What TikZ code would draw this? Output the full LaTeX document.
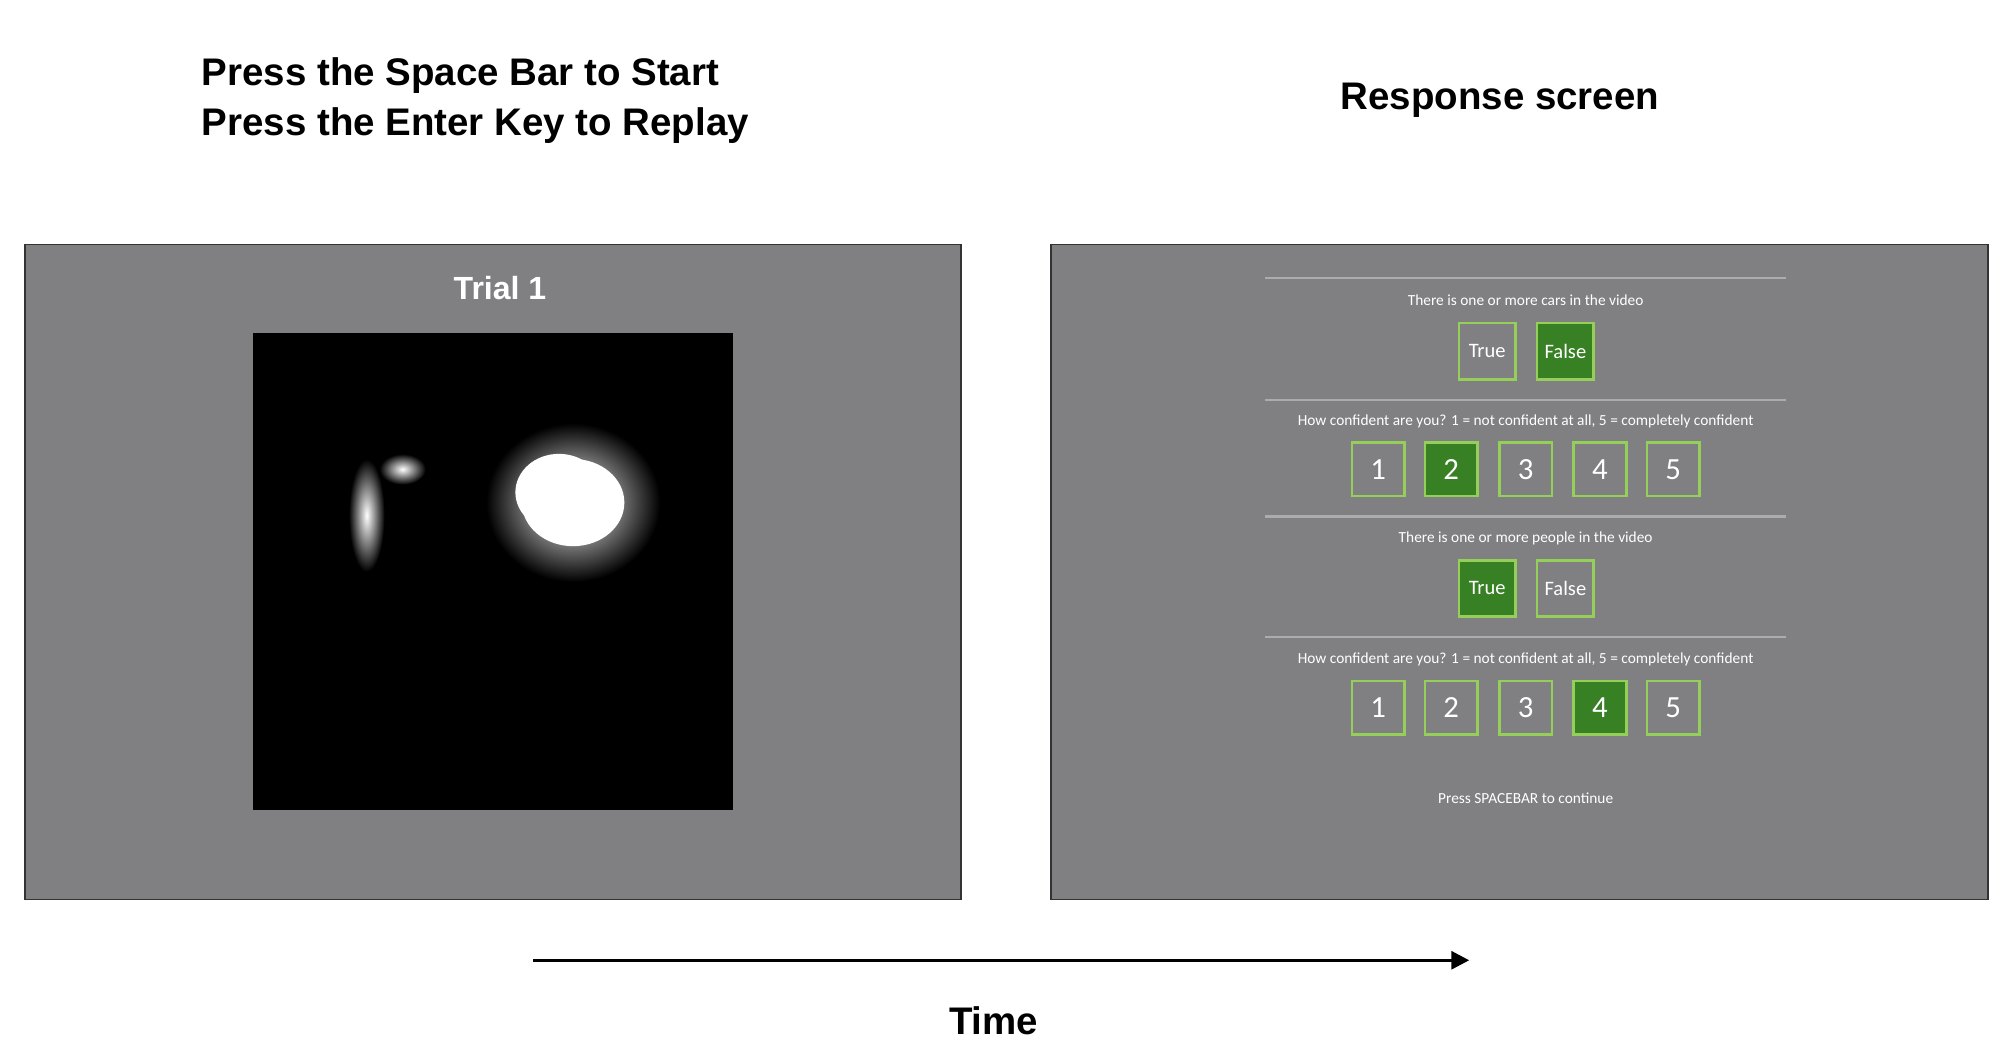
\documentclass[tikz,border=0pt]{standalone}
\usepackage{fontspec}
\setmainfont{Liberation Sans}
\newfontfamily\uifont{Carlito}
\usetikzlibrary{arrows.meta}
\definecolor{panel}{RGB}{128,128,130}
\definecolor{rule}{RGB}{172,172,174}
\definecolor{btnfill}{RGB}{56,128,36}
\definecolor{btnedge}{RGB}{150,206,90}
\tikzset{
  panelbox/.style={draw=black!80,line width=0.6pt,fill=panel},
  title/.style={font=\bfseries\fontsize{15}{18}\selectfont,anchor=west,inner sep=0},
  qtext/.style={text=white,font=\uifont\fontsize{6}{7}\selectfont,inner sep=0},
  btn/.style={draw=btnedge,line width=1pt,minimum width=22pt,minimum height=22pt,inner sep=0,text=white,font=\uifont\fontsize{8}{9}\selectfont},
  numbtn/.style={draw=btnedge,line width=1pt,minimum width=20.5pt,minimum height=21pt,inner sep=0,text=white,font=\uifont\fontsize{12}{13}\selectfont},
  sel/.style={fill=btnfill},
  sep/.style={draw=rule,line width=1pt}
}
\begin{document}
\begin{tikzpicture}[x=0.5pt,y=-0.5pt]
\useasboundingbox (0,0) rectangle (1560,816);
% titles
\node[title] (t1) at (157,59) {Press the Space Bar to Start};
\node[title] (t2) at (157,98) {Press the Enter Key to Replay};
\node[font=\bfseries\fontsize{15}{18}\selectfont,inner sep=0] (rs) at (1170,78) {Response screen};
% left panel
\node[panelbox,minimum width=365pt,minimum height=255.5pt,anchor=north west,inner sep=0] (lp) at (19,190) {};
\node[text=white,font=\bfseries\fontsize{12.5}{14}\selectfont,inner sep=0] (trial) at (390,225) {Trial 1};
\node[fill=black,minimum width=187pt,minimum height=186pt,anchor=north west,inner sep=0] (vid) at (197,259) {};
\begin{scope}
\clip (197,259) rectangle (571,631);
\shade[inner color=white,outer color=black] (447,392) ellipse (34pt and 31pt);
\fill[white] (447,392) ellipse (20pt and 17pt);
\fill[white] (436,384) ellipse (17pt and 15pt);
\shade[inner color=white!80,outer color=black] (286,402) ellipse (7pt and 22pt);
\shade[inner color=white!60,outer color=black] (314,366) ellipse (9pt and 6pt);
\end{scope}
% right panel
\node[panelbox,minimum width=365.5pt,minimum height=255.5pt,anchor=north west,inner sep=0] (rp) at (819,190) {};
\draw[sep] (987,217) -- (1393,217);
\draw[sep] (987,312) -- (1393,312);
\draw[sep] (987,403) -- (1393,403);
\draw[sep] (987,497) -- (1393,497);
\node[qtext] (q1) at (1190,234) {There is one or more cars in the video};
\node[btn] (q1t) at (1160,274) {True};
\node[btn,sel] (q1f) at (1221,274) {False};
\node[qtext] (c1) at (1190,329) {How confident are you? 1 = not confident at all, 5 = completely confident};
\node[numbtn] (c1a) at (1075,366) {1};
\node[numbtn,sel] (c1b) at (1132,366) {2};
\node[numbtn] (c1c) at (1190,366) {3};
\node[numbtn] (c1d) at (1248,366) {4};
\node[numbtn] (c1e) at (1305,366) {5};
\node[qtext] (q2) at (1190,420) {There is one or more people in the video};
\node[btn,sel] (q2t) at (1160,459) {True};
\node[btn] (q2f) at (1221,459) {False};
\node[qtext] (c2) at (1190,514) {How confident are you? 1 = not confident at all, 5 = completely confident};
\node[numbtn] (c2a) at (1075,552) {1};
\node[numbtn] (c2b) at (1132,552) {2};
\node[numbtn] (c2c) at (1190,552) {3};
\node[numbtn,sel] (c2d) at (1248,552) {4};
\node[numbtn] (c2e) at (1305,552) {5};
\node[qtext] (cont) at (1190,623) {Press SPACEBAR to continue};
% time arrow
\coordinate (a0) at (416,749);
\coordinate (a1) at (1146,749);
\draw[line width=1.3pt,-{Triangle[length=7pt,width=7pt]}] (a0) -- (a1);
\node[font=\bfseries\fontsize{15}{18}\selectfont,inner sep=0] (time) at (775,796) {Time};
\end{tikzpicture}
\end{document}
